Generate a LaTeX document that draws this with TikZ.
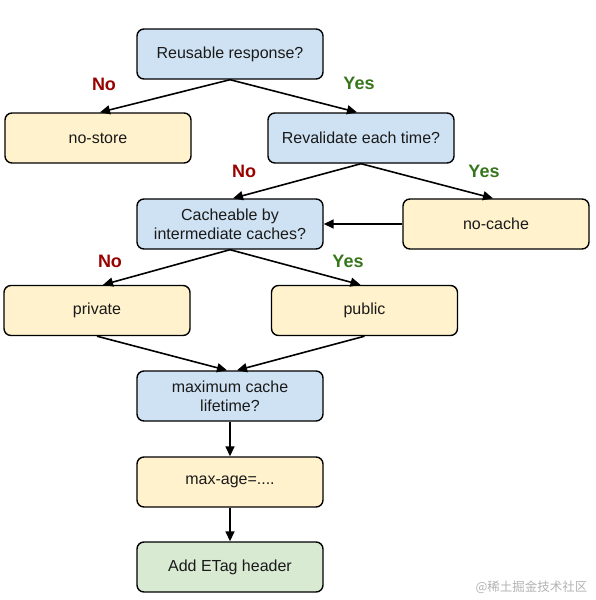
\documentclass[tikz,border=0pt]{standalone}
\usepackage{fontspec}
\setmainfont{Liberation Sans}
\newfontfamily\cjk{Noto Sans CJK SC}
\usetikzlibrary{arrows.meta}
\definecolor{bluefill}{HTML}{CFE2F3}
\definecolor{yellowfill}{HTML}{FFF2CC}
\definecolor{greenfill}{HTML}{D9EAD3}
\definecolor{nored}{HTML}{990000}
\definecolor{yesgreen}{HTML}{38761D}
\definecolor{txt}{HTML}{1A1A1A}
\tikzset{
  box/.style={draw=black, line width=1.4pt, rounded corners=7pt,
    minimum width=186pt, minimum height=50pt, inner sep=2pt,
    align=center, text=txt, font=\fontsize{16}{19}\selectfont},
  qbox/.style={box, fill=bluefill},
  abox/.style={box, fill=yellowfill},
  gbox/.style={box, fill=greenfill},
  conn/.style={line width=1.6pt, -{Triangle[length=10pt,width=9pt]}},
  nolab/.style={text=nored, font=\fontsize{18}{20}\selectfont\bfseries},
  yeslab/.style={text=yesgreen, font=\fontsize{18}{20}\selectfont\bfseries},
}
\begin{document}
\begin{tikzpicture}[x=1pt,y=-1pt]
\useasboundingbox (0,0) rectangle (595,600);
\node[qbox] (reuse) at (230,54) {Reusable response?};
\node[abox] (nostore) at (98,138) {no-store};
\node[qbox] (reval) at (361,138) {Revalidate each time?};
\node[qbox] (cache) at (230,224) {Cacheable by\\intermediate caches?};
\node[abox] (nocache) at (496,224) {no-cache};
\node[abox] (private) at (97,310.5) {private};
\node[abox] (public) at (364.5,310.5) {public};
\node[qbox] (maxlife) at (230,396) {maximum cache\\lifetime?};
\node[abox] (maxage) at (230,482) {max-age=....};
\node[gbox] (etag) at (230,567) {Add ETag header};

\draw[conn] (reuse.south) -- ([xshift=2pt]nostore.north);
\draw[conn] (reuse.south) -- ([xshift=-4pt]reval.north);
\draw[conn] (reval.south) -- ([xshift=3pt]cache.north);
\draw[conn] (reval.south) -- ([xshift=-3pt]nocache.north);
\draw[conn] (nocache.west) -- (cache.east);
\draw[conn] (cache.south) -- ([xshift=6pt]private.north);
\draw[conn] (cache.south) -- ([xshift=-4pt]public.north);
\draw[conn] (private.south) -- ([xshift=-3pt]maxlife.north);
\draw[conn] (public.south) -- ([xshift=7pt]maxlife.north);
\draw[conn] (maxlife.south) -- (maxage.north);
\draw[conn] (maxage.south) -- (etag.north);

\node[nolab] (l1) at (104,84) {No};
\node[yeslab] (l2) at (359,83) {Yes};
\node[nolab] (l3) at (244,171) {No};
\node[yeslab] (l4) at (484,171) {Yes};
\node[nolab] (l5) at (110,261) {No};
\node[yeslab] (l6) at (348,261) {Yes};

\node[text=black!30, font=\cjk\fontsize{12.5}{14}\selectfont, anchor=east] (wm) at (591,587) {@稀土掘金技术社区};
\end{tikzpicture}
\end{document}
